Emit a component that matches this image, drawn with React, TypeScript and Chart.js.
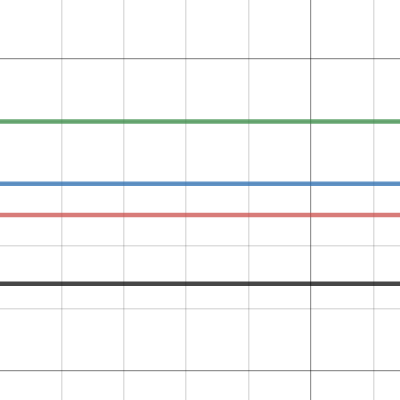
import { useEffect, useRef } from 'react';
import Chart from 'chart.js/auto';

// horizontal lines y = c, drawn across the whole view
const lineXs = [-6, 2];
const greenLevel = 4;
const blueLevel = 3;
const redLevel = 2.5;
const blackLevel = 1.4;

// gridline positions (no labels are shown)
const xTicks = [-5, -4, -3, -2, -1, 0, 1];
const yTicks = [0, 1, 2, 3, 4, 5];

const series = [
  { label: 'green', level: greenLevel, color: 'rgba(56, 140, 70, 0.75)' },
  { label: 'blue', level: blueLevel, color: 'rgba(45, 112, 179, 0.75)' },
  { label: 'red', level: redLevel, color: 'rgba(199, 68, 64, 0.7)' },
  { label: 'black', level: blackLevel, color: 'rgba(0, 0, 0, 0.72)' },
];

const gridColor = (ctx: any) =>
  ctx.tick && ctx.tick.value % 5 === 0 ? 'rgba(0, 0, 0, 0.42)' : 'rgba(0, 0, 0, 0.13)';
const gridWidth = (ctx: any) => (ctx.tick && ctx.tick.value % 5 === 0 ? 1.2 : 1.5);

export default function App() {
  const chartRef = useRef<HTMLCanvasElement>(null);
  const chartInstance = useRef<Chart | null>(null);

  useEffect(() => {
    document.body.style.margin = '0';
    if (chartInstance.current) {
      chartInstance.current.destroy();
    }
    if (chartRef.current) {
      chartInstance.current = new Chart(chartRef.current, {
        type: 'line',
        data: {
          datasets: series.map((s) => ({
            label: s.label,
            data: lineXs.map((x) => ({ x, y: s.level })),
            borderColor: s.color,
            borderWidth: 4.5,
            pointRadius: 0,
            fill: false,
          })),
        },
        options: {
          animation: false,
          responsive: true,
          maintainAspectRatio: false,
          layout: { padding: 0 },
          plugins: { legend: { display: false }, tooltip: { enabled: false } },
          scales: {
            x: {
              type: 'linear',
              min: -4.984,
              max: 1.426,
              ticks: { display: false, stepSize: 1 },
              afterBuildTicks: (scale: any) => {
                scale.ticks = xTicks.map((value) => ({ value }));
              },
              grid: { color: gridColor, lineWidth: gridWidth, drawTicks: false },
              border: { display: false },
            },
            y: {
              type: 'linear',
              min: -0.465,
              max: 5.946,
              ticks: { display: false, stepSize: 1 },
              afterBuildTicks: (scale: any) => {
                scale.ticks = yTicks.map((value) => ({ value }));
              },
              grid: { color: gridColor, lineWidth: gridWidth, drawTicks: false },
              border: { display: false },
            },
          },
        },
      });
    }
    return () => {
      if (chartInstance.current) {
        chartInstance.current.destroy();
      }
    };
  }, []);

  return (
    <div style={{ width: '400px', height: '400px', position: 'relative' }}>
      <canvas ref={chartRef}></canvas>
    </div>
  );
}
